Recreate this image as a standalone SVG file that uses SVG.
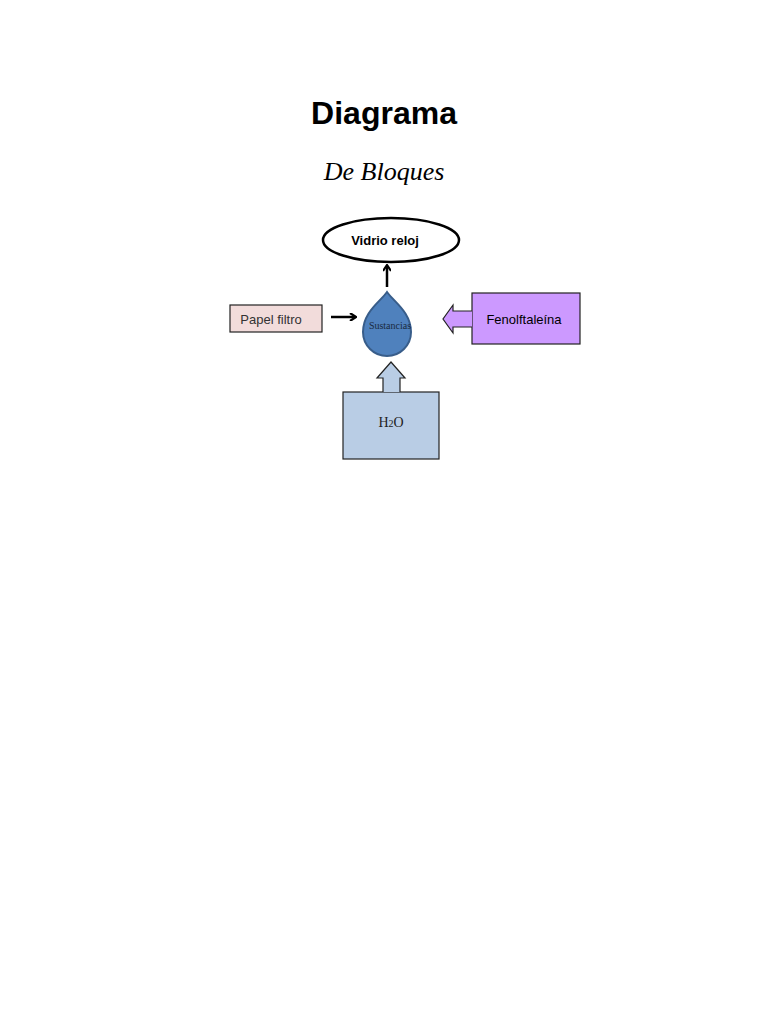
<svg xmlns="http://www.w3.org/2000/svg" width="768" height="1024" viewBox="0 0 768 1024">
<style>
.t{font-family:"Liberation Sans",Arial,sans-serif;}
.s{font-family:"Liberation Serif","Times New Roman",serif;}
.b{stroke:#222;stroke-width:1.2;}
</style>
<defs><marker id="ah" markerWidth="8" markerHeight="8" refX="6" refY="4" orient="auto" markerUnits="userSpaceOnUse"><path d="M1,0 L7,4 L1,8" fill="none" stroke="#000" stroke-width="2.2"/></marker></defs>
<rect width="768" height="1024" fill="#fff"/>
<text x="384" y="124" text-anchor="middle" class="t" font-size="32" font-weight="bold">Diagrama</text>
<text x="384" y="180" text-anchor="middle" font-family="Liberation Serif,serif" font-style="italic" font-size="26">De Bloques</text>
<g id="vidrio"><ellipse cx="391" cy="240" rx="68" ry="22" fill="#fff" stroke="#000" stroke-width="2.5"/><text x="385" y="245" text-anchor="middle" class="t" font-size="13" font-weight="bold">Vidrio reloj</text></g>
<g id="papel"><rect x="230" y="305" width="92" height="27" fill="#f2dcdb" class="b"/><text x="271" y="324" text-anchor="middle" class="t" font-size="13" fill="#333">Papel filtro</text></g>
<g id="sustancias"><path d="M387,292 C380,302 363,312 363,332 A24,24 0 0 0 411,332 C411,312 394,302 387,292 Z" fill="#4f81bd" stroke="#385d8a" stroke-width="2"/><text x="390" y="329" text-anchor="middle" class="s" font-size="10" fill="#1a2a40">Sustancias</text></g>
<g id="fenol"><rect x="472" y="293" width="108" height="51" fill="#cc99ff" class="b"/><text x="524" y="324" text-anchor="middle" class="t" font-size="13">Fenolftaleína</text></g>
<g id="h2o"><rect x="343" y="392" width="96" height="67" fill="#b9cde5" class="b"/><text x="391" y="427" text-anchor="middle" class="s" font-size="14" fill="#222">H<tspan font-size="10">2</tspan>O</text></g>
<g id="connectors">
<line x1="387" y1="287" x2="387" y2="266" stroke="#000" stroke-width="2.5" marker-end="url(#ah)"/>
<line x1="331" y1="317" x2="355" y2="317" stroke="#000" stroke-width="2.5" marker-end="url(#ah)"/>
<path d="M472,311 L453,311 L453,305 L443,319 L453,333 L453,327 L472,327" fill="#cc99ff" class="b"/>
<path d="M383,392 L383,378 L377,378 L391,362 L405,378 L400,378 L400,392" fill="#b9cde5" class="b"/>
</g>
</svg>
